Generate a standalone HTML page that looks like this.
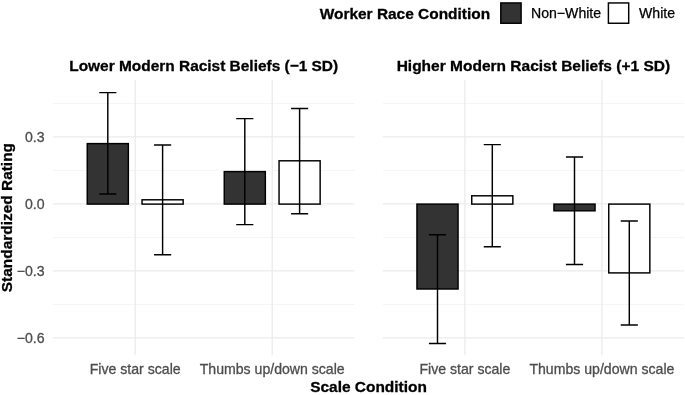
<!DOCTYPE html>
<html lang="en">
<head>
<meta charset="utf-8">
<title>Standardized Rating by Scale Condition and Worker Race Condition</title>
<style>
html,body{margin:0;padding:0;background:#fff;}
body{width:685px;height:395px;overflow:hidden;}
svg{display:block;}
text{font-family:"Liberation Sans",Arial,Helvetica,sans-serif;}
.b{font-weight:bold;font-size:15.45px;fill:#000;stroke:#000;stroke-width:0.3px;}
.a{font-size:14.1px;fill:#4D4D4D;stroke:#4D4D4D;stroke-width:0.3px;}
.l{font-size:14.1px;fill:#000;stroke:#000;stroke-width:0.25px;}
</style>
</head>
<body>
<svg width="685" height="395" viewBox="0 0 685 395">
<rect x="0" y="0" width="685" height="395" fill="#ffffff"/>
<!-- gridlines -->
<g fill="none" stroke="#EBEBEB">
<line x1="53.00" x2="354.40" y1="103.44" y2="103.44" stroke-width="0.55"/>
<line x1="53.00" x2="354.40" y1="170.44" y2="170.44" stroke-width="0.55"/>
<line x1="53.00" x2="354.40" y1="237.43" y2="237.43" stroke-width="0.55"/>
<line x1="53.00" x2="354.40" y1="304.42" y2="304.42" stroke-width="0.55"/>
<line x1="53.00" x2="354.40" y1="136.94" y2="136.94" stroke-width="1.30"/>
<line x1="53.00" x2="354.40" y1="203.93" y2="203.93" stroke-width="1.30"/>
<line x1="53.00" x2="354.40" y1="270.92" y2="270.92" stroke-width="1.30"/>
<line x1="53.00" x2="354.40" y1="337.91" y2="337.91" stroke-width="1.30"/>
<line x1="135.20" x2="135.20" y1="80.00" y2="355.20" stroke-width="1.30"/>
<line x1="272.20" x2="272.20" y1="80.00" y2="355.20" stroke-width="1.30"/>
</g>
<g fill="none" stroke="#EBEBEB">
<line x1="382.70" x2="684.10" y1="103.44" y2="103.44" stroke-width="0.55"/>
<line x1="382.70" x2="684.10" y1="170.44" y2="170.44" stroke-width="0.55"/>
<line x1="382.70" x2="684.10" y1="237.43" y2="237.43" stroke-width="0.55"/>
<line x1="382.70" x2="684.10" y1="304.42" y2="304.42" stroke-width="0.55"/>
<line x1="382.70" x2="684.10" y1="136.94" y2="136.94" stroke-width="1.30"/>
<line x1="382.70" x2="684.10" y1="203.93" y2="203.93" stroke-width="1.30"/>
<line x1="382.70" x2="684.10" y1="270.92" y2="270.92" stroke-width="1.30"/>
<line x1="382.70" x2="684.10" y1="337.91" y2="337.91" stroke-width="1.30"/>
<line x1="464.90" x2="464.90" y1="80.00" y2="355.20" stroke-width="1.30"/>
<line x1="601.90" x2="601.90" y1="80.00" y2="355.20" stroke-width="1.30"/>
</g>
<!-- bars -->
<g stroke="#000000" stroke-width="1.45" stroke-linejoin="miter">
<rect x="87.25" y="143.60" width="41.10" height="60.50" fill="#333333"/>
<rect x="142.05" y="199.80" width="41.10" height="4.30" fill="#FFFFFF"/>
<rect x="224.25" y="171.60" width="41.10" height="32.50" fill="#333333"/>
<rect x="279.05" y="160.80" width="41.10" height="43.30" fill="#FFFFFF"/>
<rect x="416.95" y="204.10" width="41.10" height="84.90" fill="#333333"/>
<rect x="471.75" y="195.80" width="41.10" height="8.30" fill="#FFFFFF"/>
<rect x="553.95" y="204.10" width="41.10" height="6.70" fill="#333333"/>
<rect x="608.75" y="204.10" width="41.10" height="68.80" fill="#FFFFFF"/>
</g>
<!-- error bars -->
<g stroke="#000000" stroke-width="1.45" fill="none">
<path d="M99.24 92.60H116.36M107.80 92.60V194.00M99.24 194.00H116.36"/>
<path d="M154.04 144.90H171.16M162.60 144.90V254.80M154.04 254.80H171.16"/>
<path d="M236.24 118.60H253.36M244.80 118.60V224.60M236.24 224.60H253.36"/>
<path d="M291.04 108.50H308.16M299.60 108.50V213.70M291.04 213.70H308.16"/>
<path d="M428.94 234.80H446.06M437.50 234.80V343.40M428.94 343.40H446.06"/>
<path d="M483.74 144.60H500.86M492.30 144.60V246.80M483.74 246.80H500.86"/>
<path d="M565.94 157.00H583.06M574.50 157.00V264.50M565.94 264.50H583.06"/>
<path d="M620.74 221.00H637.86M629.30 221.00V324.90M620.74 324.90H637.86"/>
</g>
<!-- legend -->
<text class="b" x="319.7" y="18.5">Worker Race Condition</text>
<rect x="500.8" y="2.95" width="20.3" height="20.3" fill="#333333" stroke="#000" stroke-width="1.45"/>
<text class="l" x="531.0" y="18.3">Non−White</text>
<rect x="608.4" y="2.95" width="20.3" height="20.3" fill="#fff" stroke="#000" stroke-width="1.45"/>
<text class="l" x="639.0" y="18.3">White</text>
<!-- facet titles -->
<text class="b" x="203.70" y="71.1" text-anchor="middle">Lower Modern Racist Beliefs (−1 SD)</text>
<text class="b" style="font-size:15.5px" x="533.40" y="71.1" text-anchor="middle">Higher Modern Racist Beliefs (+1 SD)</text>
<!-- axes -->
<text class="a" x="44.6" y="141.94" text-anchor="end">0.3</text>
<text class="a" x="44.6" y="208.93" text-anchor="end">0.0</text>
<text class="a" x="44.6" y="275.92" text-anchor="end">−0.3</text>
<text class="a" x="44.6" y="342.91" text-anchor="end">−0.6</text>
<text class="a" x="135.20" y="374.3" text-anchor="middle">Five star scale</text>
<text class="a" x="272.20" y="374.3" text-anchor="middle">Thumbs up/down scale</text>
<text class="a" x="464.90" y="374.3" text-anchor="middle">Five star scale</text>
<text class="a" x="601.90" y="374.3" text-anchor="middle">Thumbs up/down scale</text>
<text class="b" x="368.55" y="391.9" text-anchor="middle">Scale Condition</text>
<text class="b" transform="translate(12.35 217.60) rotate(-90)" text-anchor="middle">Standardized Rating</text>
</svg>
</body>
</html>
